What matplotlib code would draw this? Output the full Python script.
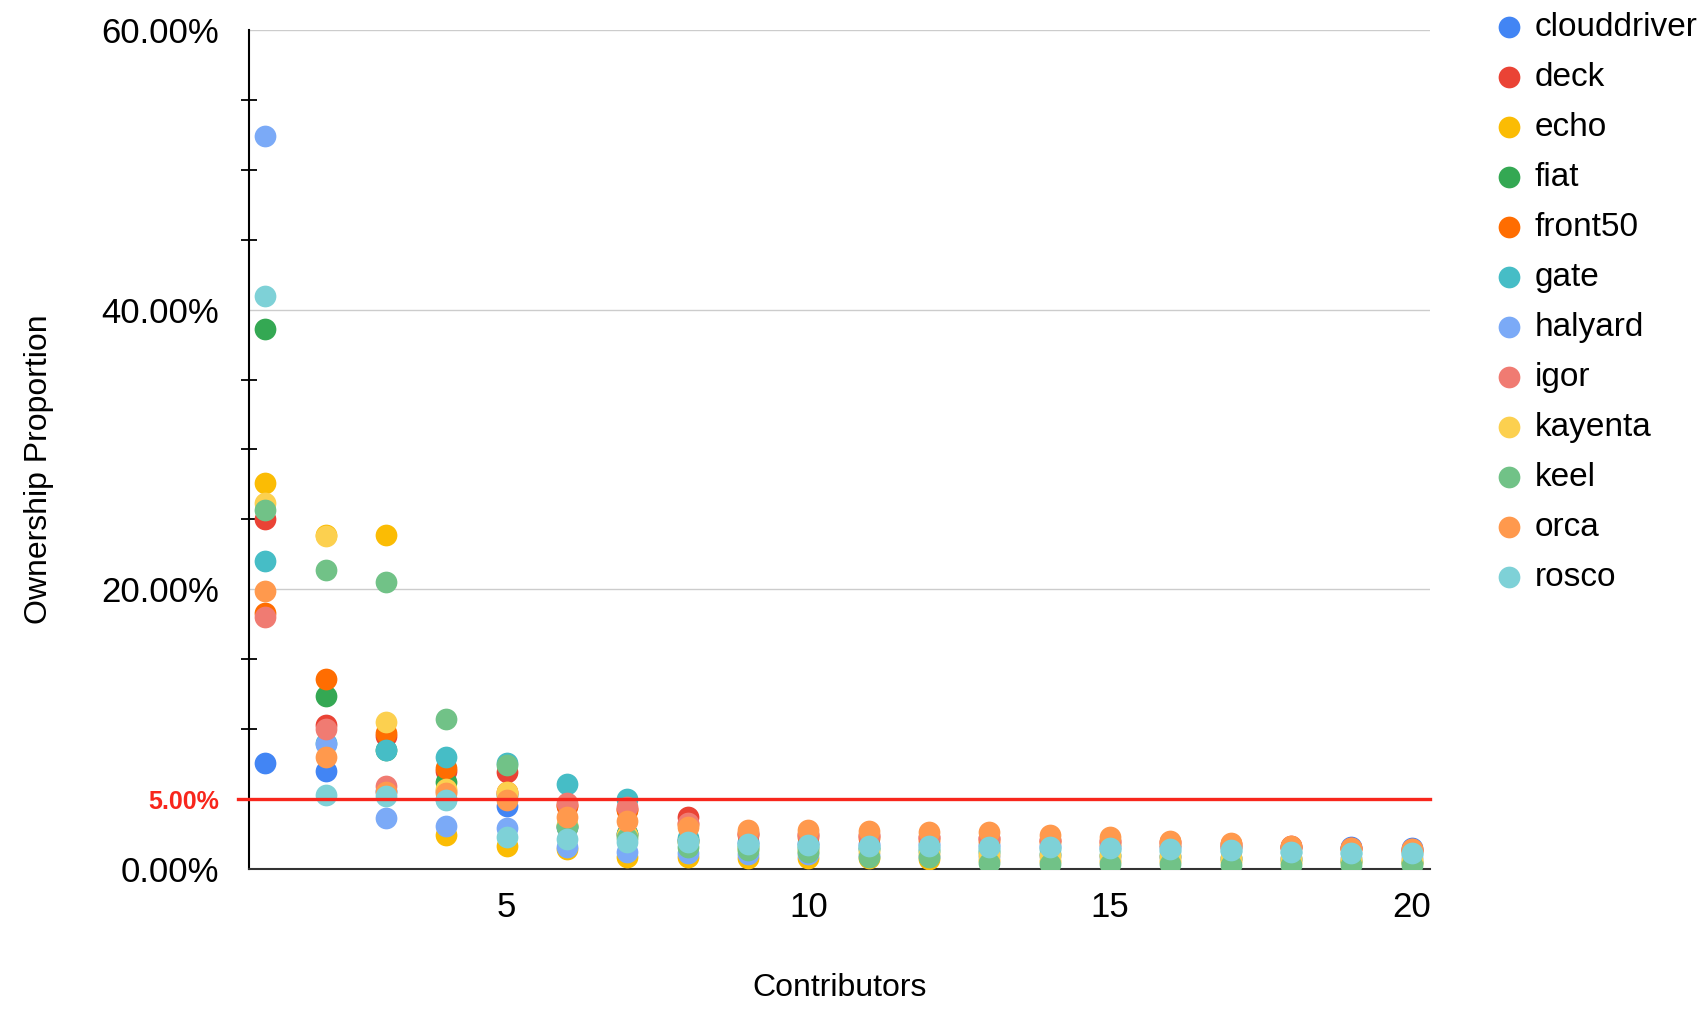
import matplotlib
matplotlib.use('Agg')
import matplotlib.pyplot as plt
from matplotlib.ticker import FixedLocator, PercentFormatter

plt.rcParams['font.family'] = ['Liberation Sans', 'DejaVu Sans']

# contributor rank on the x axis
contributors = list(range(1, 21))

repos = ['clouddriver', 'deck', 'echo', 'fiat', 'front50', 'gate',
         'halyard', 'igor', 'kayenta', 'keel', 'orca', 'rosco']

colors = ['#4285f4', '#ea4335', '#fbbc04', '#34a853', '#ff6d01', '#46bdc6',
          '#7baaf7', '#f07b72', '#fcd04f', '#71c287', '#ff994d', '#7ed1d7']

# ownership proportion (%) of the top 20 contributors per repo
clouddriver = [7.6, 7.0, 5.6, 5.0, 4.5, 3.0, 2.5, 2.1, 1.9, 1.85,
               1.8, 1.75, 1.7, 1.65, 1.6, 1.6, 1.55, 1.55, 1.55, 1.48]
deck = [25.0, 10.3, 9.5, 7.0, 6.9, 4.5, 4.3, 3.7, 2.6, 2.5,
        2.4, 2.3, 2.2, 2.1, 2.0, 1.9, 1.8, 1.65, 1.52, 1.35]
echo = [27.6, 23.9, 23.9, 2.4, 1.65, 1.45, 0.86, 0.85, 0.8, 0.8,
        0.75, 0.7, 0.65, 0.6, 0.6, 0.55, 0.55, 0.5, 0.5, 0.45]
fiat = [38.6, 12.4, 8.5, 6.2, 5.3, 3.1, 2.5, 2.0, 1.6, 1.5,
        1.4, 1.3, 1.2, 1.1, 1.0, 0.9, 0.8, 0.7, 0.6, 0.5]
front50 = [18.3, 13.6, 9.7, 7.2, 5.5, 4.6, 4.2, 3.2, 2.4, 2.3,
           2.2, 2.1, 2.0, 1.9, 1.8, 1.7, 1.6, 1.5, 1.4, 1.3]
gate = [22.0, 9.0, 8.5, 8.0, 7.6, 6.1, 5.0, 2.2, 1.8, 1.7,
        1.6, 1.5, 1.45, 1.4, 1.35, 1.3, 1.25, 1.2, 1.15, 1.1]
halyard = [52.45, 8.9, 3.65, 3.1, 2.9, 1.6, 1.2, 1.15, 1.1, 1.05,
           1.0, 0.95, 0.9, 0.9, 0.85, 0.85, 0.8, 0.8, 0.75, 0.75]
igor = [18.0, 10.0, 5.9, 5.6, 5.4, 4.7, 4.45, 3.3, 2.5, 2.4,
        2.35, 2.3, 2.2, 2.1, 2.0, 1.9, 1.8, 1.6, 1.5, 1.4]
kayenta = [26.2, 23.8, 10.5, 5.7, 5.5, 3.15, 2.4, 1.9, 1.4, 1.3,
           1.2, 1.1, 1.0, 0.95, 0.9, 0.85, 0.8, 0.75, 0.7, 0.65]
keel = [25.7, 21.4, 20.5, 10.7, 7.4, 3.0, 2.2, 1.6, 1.35, 1.2,
        0.85, 0.85, 0.4, 0.35, 0.35, 0.35, 0.3, 0.3, 0.3, 0.3]
orca = [19.9, 8.0, 5.5, 5.4, 4.9, 3.7, 3.45, 3.0, 2.75, 2.75,
        2.68, 2.63, 2.63, 2.44, 2.27, 1.98, 1.88, 1.67, 1.5, 1.4]
rosco = [41.0, 5.3, 5.2, 4.9, 2.3, 2.15, 1.95, 1.95, 1.8, 1.72,
         1.65, 1.65, 1.55, 1.55, 1.48, 1.41, 1.36, 1.24, 1.17, 1.14]

series = [clouddriver, deck, echo, fiat, front50, gate,
          halyard, igor, kayenta, keel, orca, rosco]

THRESHOLD = 5.0

fig = plt.figure(figsize=(17.06, 10.11), dpi=100)
ax = fig.add_axes([0.146, 0.1405, 0.692, 0.8299])

for name, vals, color in zip(repos, series, colors):
    ax.scatter(contributors, vals, s=245, color=color, linewidths=0,
               label=name, zorder=3)

# 5% reference line, poking slightly left of the axis
ax.axhline(THRESHOLD, xmin=-0.009, xmax=1, color='#f8261c', lw=2.4,
           zorder=4, clip_on=False)

ax.set_xlim(0.73, 20.3)
ax.set_ylim(0, 60)

ax.set_xticks([5, 10, 15, 20])
ax.set_yticks([0, THRESHOLD, 20, 40, 60])
ax.yaxis.set_minor_locator(FixedLocator([10, 15, 25, 30, 35, 45, 50, 55]))
ax.yaxis.set_major_formatter(PercentFormatter(xmax=100, decimals=2))

ax.tick_params(axis='x', length=0, pad=16, labelsize=25)
ax.tick_params(axis='y', which='major', length=0, pad=21.6, labelsize=25)
ax.tick_params(axis='y', which='minor', length=12, width=1.3,
               direction='inout', color='black')

ax.grid(axis='y', which='major', color='#cccccc', lw=1)
ax.set_axisbelow(True)
gls = ax.yaxis.get_gridlines()
gls[0].set_visible(False)
gls[1].set_visible(False)

lbls = ax.get_yticklabels()
lbls[1].set_color('#f8261c')
lbls[1].set_fontweight('bold')
lbls[1].set_fontsize(18)

for side in ['top', 'right']:
    ax.spines[side].set_visible(False)
ax.spines['left'].set_color('black')
ax.spines['left'].set_linewidth(1.5)
ax.spines['bottom'].set_color('#333333')
ax.spines['bottom'].set_linewidth(1.5)

ax.set_ylabel('Ownership Proportion', fontsize=23)
ax.yaxis.set_label_coords(-0.165, 0.477)
ax.set_xlabel('Contributors', fontsize=23)
ax.xaxis.set_label_coords(0.5, -0.124)

ax.legend(loc='upper left', bbox_to_anchor=(0.875, 0.9885),
          bbox_transform=fig.transFigure, frameon=False, fontsize=24,
          handlelength=1.0, handletextpad=0.25, labelspacing=0.57,
          borderpad=0, borderaxespad=0, scatterpoints=1)

fig.savefig('out.png', dpi=100)
